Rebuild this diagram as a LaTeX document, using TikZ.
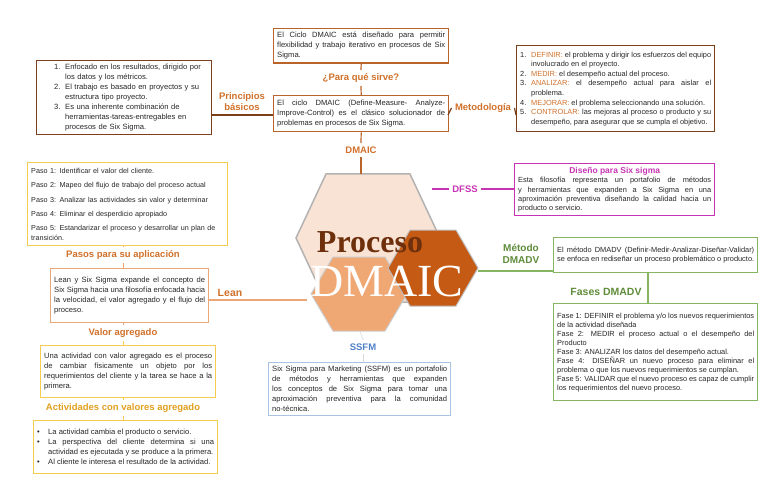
\documentclass[tikz,border=0pt]{standalone}
\usepackage{fontspec}
\setmainfont{Liberation Sans}
\newfontfamily\serifl{Liberation Serif}
\definecolor{dbrown}{HTML}{7B3F1A}
\definecolor{borange}{HTML}{B8642A}
\definecolor{torange}{HTML}{D0702A}
\definecolor{lorange}{HTML}{EBA778}
\definecolor{yel}{HTML}{F5CB50}
\definecolor{tyel}{HTML}{E0A020}
\definecolor{mag}{HTML}{C634B4}
\definecolor{grn}{HTML}{86B562}
\definecolor{tgrn}{HTML}{5E8C3A}
\definecolor{lblue}{HTML}{A8C4E2}
\definecolor{tblue}{HTML}{4F7FC8}
\definecolor{hex1}{HTML}{F9E3D4}
\definecolor{hex2}{HTML}{EFA774}
\definecolor{hex3}{HTML}{C45A14}
\definecolor{ptxt}{HTML}{6E300C}
\tikzset{
 tbox/.style={draw,line width=1.4pt,anchor=north west,inner sep=3.5pt,align=justify,font=\fontsize{7.6}{10}\selectfont,text=black!85},
 lab/.style={font=\bfseries\fontsize{9.5}{11}\selectfont,align=center},
 li/.style={line width=1.2pt},
}
\newcommand{\itm}[2]{{\hangindent=11pt\hangafter=1 \makebox[11pt][l]{#1}#2\par}}
\begin{document}
\hyphenpenalty=10000 \exhyphenpenalty=50
\begin{tikzpicture}[x=1pt,y=-1pt]
\useasboundingbox (0,0) rectangle (768,497);
% hexagons
\fill[hex1,draw=black!30,line width=1.5pt] (296,238)--(326,174)--(410,174)--(440,238)--(410,302)--(326,302)--cycle;
\fill[hex2,draw=black!20,line width=1pt] (311,294)--(333,257)--(385,257)--(407,294)--(385,331)--(333,331)--cycle;
\fill[hex3,draw=black!25,line width=1pt] (388,268)--(410,230)--(456,230)--(478,268)--(456,306)--(410,306)--cycle;
\node (proc) at (370,242) {\serifl\bfseries\fontsize{32}{32}\selectfont\color{ptxt}Proceso};
\node (dmaic) at (387,281) {\serifl\fontsize{46}{46}\selectfont\color{white}DMAIC};
\coordinate (hexT) at (361,174);
\coordinate (hexL) at (307,300);
\coordinate (hexB) at (360,331);
\coordinate (hexR) at (478,271);
\coordinate (hexTR) at (432,189);

% top
\node[tbox,draw=borange,text width=168pt,minimum height=34pt] (ciclo) at (273,28)
{El Ciclo DMAIC está diseñado para permitir flexibilidad y trabajo iterativo en procesos de Six Sigma.};
\node[lab,text=torange] (para) at (361,78) {¿Para qué sirve?};
\node[tbox,draw=borange,text width=168pt,minimum height=36pt] (def) at (273,95)
{El ciclo DMAIC (Define-Measure- Analyze-Improve-Control) es el clásico solucionador de problemas en procesos de Six Sigma.};
\node[lab,text=torange] (dm) at (361,150) {DMAIC};
\draw[li,borange] (ciclo.south) -- (para.north);
\draw[li,borange] (para.south) -- (def.north);
\draw[li,borange] (def.south) -- (dm.north);
\draw[li,borange] (dm.south) -- (hexT);

\node[tbox,draw=dbrown,text width=168pt,minimum height=71pt,align=left] (prin) at (36,60)
{\leftskip=14pt\itm{1.}{Enfocado en los resultados, dirigido por los datos y los métricos.}\itm{2.}{El trabajo es basado en proyectos y su estructura tipo proyecto.}\itm{3.}{Es una inherente combinación de herramientas-tareas-entregables en procesos de Six Sigma.}};
\node[lab,text=torange] (plab) at (242,102) {Principios\\básicos};
\draw[li,dbrown] (prin.east |- 0,115) -- (273,115);

\node[lab,text=torange] (met) at (483,108) {Metodología};
\node[tbox,draw=dbrown,text width=191pt,minimum height=86pt,font=\fontsize{7.4}{9.6}\selectfont] (metb) at (516,45)
{\itm{1.}{{\color{torange}DEFINIR:} el problema y dirigir los esfuerzos del equipo involucrado en el proyecto.}\itm{2.}{{\color{torange}MEDIR:} el desempeño actual del proceso.}\itm{3.}{{\color{torange}ANALIZAR:} el desempeño actual para aislar el problema.}\itm{4.}{{\color{torange}MEJORAR:} el problema seleccionando una solución.}\itm{5.}{{\color{torange}CONTROLAR:} las mejoras al proceso o producto y su desempeño, para asegurar que se cumpla el objetivo.}};
\draw[li,dbrown] (448,115) -- (met.west);
\draw[li,dbrown] (met.east) -- (516,115);

% DFSS
\node[lab,text=mag] (dfss) at (465,189) {DFSS};
\node[tbox,draw=mag,text width=193pt,minimum height=52pt,font=\fontsize{7.4}{9.2}\selectfont] (dfb) at (514,163)
{\makebox[\linewidth][c]{\bfseries\fontsize{8.5}{9}\selectfont\color{mag}Diseño para Six sigma}\par Esta filosofía representa un portafolio de métodos y herramientas que expanden a Six Sigma en una aproximación preventiva diseñando la calidad hacia un producto o servicio.};
\draw[li,mag] (hexTR) -- (dfss.west);
\draw[li,mag] (dfss.east) -- (dfb.west |- dfss);

% DMADV
\node[lab,text=tgrn,font=\bfseries\fontsize{10}{12}\selectfont] (mdv) at (521,254) {Método\\DMADV};
\node[tbox,draw=grn,text width=197pt,minimum height=35pt,font=\fontsize{7.4}{9.2}\selectfont] (mdb) at (553,237)
{El método DMADV (Definir-Medir-Analizar-Diseñar-Validar) se enfoca en rediseñar un proceso problemático o producto.};
\draw[li,grn] (hexR) -- (mdb.west |- hexR);
\node[lab,text=tgrn,font=\bfseries\fontsize{10.5}{11}\selectfont] (fas) at (606,292) {Fases DMADV};
\node[tbox,draw=grn,text width=197pt,minimum height=97pt,font=\fontsize{7.4}{9}\selectfont] (fab) at (553,303)
{Fase 1: DEFINIR el problema y/o los nuevos requerimientos de la actividad diseñada\par Fase 2: MEDIR el proceso actual o el desempeño del Producto\par Fase 3: ANALIZAR los datos del desempeño actual.\par Fase 4: DISEÑAR un nuevo proceso para eliminar el problema o que los nuevos requerimientos se cumplan.\par Fase 5: VALIDAR que el nuevo proceso es capaz de cumplir los requerimientos del nuevo proceso.};
\coordinate (gx) at (648,0);
\draw[li,grn] (mdb.south -| gx) -- (fab.north -| gx);

% SSFM
\node[lab,text=tblue] (ssfm) at (363,347) {SSFM};
\node[tbox,draw=lblue,text width=175pt,minimum height=53pt] (ssb) at (268,362)
{Six Sigma para Marketing (SSFM) es un portafolio de métodos y herramientas que expanden los conceptos de Six Sigma para tomar una aproximación preventiva para la comunidad no-técnica.};
\draw[black!15,line width=0.6pt] (hexB) -- (ssfm.north);
\draw[black!15,line width=0.6pt] (ssfm.south) -- (ssb.north -| ssfm);

% Lean
\node[tbox,draw=yel,text width=193pt,minimum height=83pt,align=left,font=\fontsize{7.2}{9.4}\selectfont] (pas) at (27,162)
{Paso 1: Identificar el valor del cliente.\\[5pt]Paso 2: Mapeo del flujo de trabajo del proceso actual\\[5pt]Paso 3: Analizar las actividades sin valor y determinar\\[5pt]Paso 4: Eliminar el desperdicio apropiado\\[5pt]Paso 5: Estandarizar el proceso y desarrollar un plan de\\transición.};
\node[lab,text=torange] (plab2) at (123,255) {Pasos para su aplicación};
\node[tbox,draw=lorange,text width=151pt,minimum height=54pt] (leanb) at (50,268)
{Lean y Six Sigma expande el concepto de Six Sigma hacia una filosofía enfocada hacia la velocidad, el valor agregado y el flujo del proceso.};
\node[lab,text=torange,font=\bfseries\fontsize{10.5}{11}\selectfont] (lean) at (230,293) {Lean};
\draw[li,lorange] (leanb.east |- hexL) -- (hexL);
\node[lab,text=torange] (val) at (123,333) {Valor agregado};
\node[tbox,draw=yel,text width=168pt,minimum height=52pt] (valb) at (40,345)
{Una actividad con valor agregado es el proceso de cambiar físicamente un objeto por los requerimientos del cliente y la tarea se hace a la primera.};
\node[lab,text=tyel] (act) at (123,408) {Actividades con valores agregado};
\node[tbox,draw=yel,text width=177pt,minimum height=53pt] (actb) at (33,420)
{\itm{\textbullet}{La actividad cambia el producto o servicio.}\itm{\textbullet}{La perspectiva del cliente determina si una actividad es ejecutada y se produce a la primera.}\itm{\textbullet}{Al cliente le interesa el resultado de la actividad.}};
\draw[lorange,line width=0.6pt] (pas.south -| plab2) -- (plab2.north);
\draw[lorange,line width=0.6pt] (plab2.south) -- (leanb.north -| plab2);
\draw[lorange,line width=0.6pt] (leanb.south -| val) -- (val.north);
\draw[yel,line width=0.6pt] (val.south) -- (valb.north -| val);
\draw[yel,line width=0.6pt] (valb.south -| act) -- (act.north);
\draw[yel,line width=0.6pt] (act.south) -- (actb.north -| act);
\end{tikzpicture}
\end{document}
